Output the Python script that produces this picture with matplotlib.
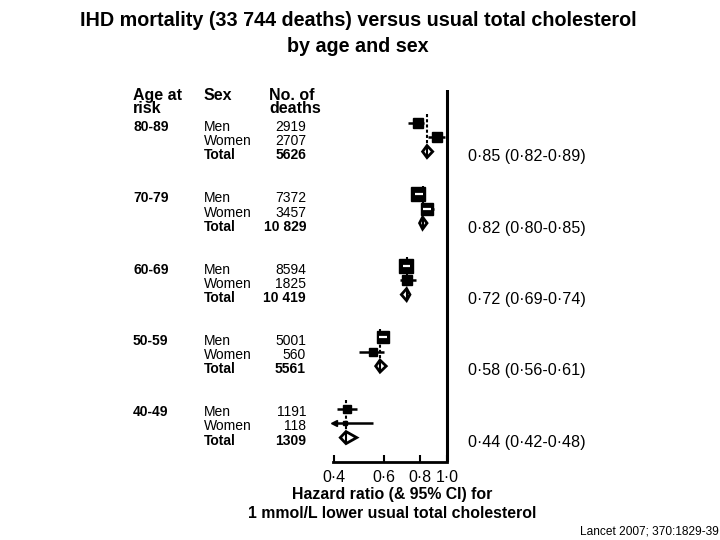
import numpy as np
import matplotlib.pyplot as plt
from matplotlib.patches import Polygon

plt.rcParams['font.family'] = ['Liberation Sans', 'DejaVu Sans']

# data
ages = ['80-89', '70-79', '60-69', '50-59', '40-49']
men_deaths = [2919, 7372, 8594, 5001, 1191]
women_deaths = [2707, 3457, 1825, 560, 118]
total_deaths = ['5626', '10 829', '10 419', '5561', '1309']

men_hr = [0.787, 0.79, 0.717, 0.595, 0.444]
men_lo = [0.73, 0.77, 0.70, 0.57, 0.41]
men_hi = [0.83, 0.82, 0.74, 0.62, 0.48]

women_hr = [0.92, 0.85, 0.725, 0.548, 0.435]
women_lo = [0.86, 0.81, 0.68, 0.49, 0.33]
women_hi = [0.98, 0.90, 0.78, 0.60, 0.55]

total_hr = [0.85, 0.82, 0.72, 0.58, 0.44]
total_lo = [0.82, 0.80, 0.69, 0.56, 0.42]
total_hi = [0.89, 0.85, 0.74, 0.61, 0.48]

xticks = [0.4, 0.6, 0.8, 1.0]
xticklabels = ['0·4', '0·6', '0·8', '1·0']

W, H = 720, 540
fig = plt.figure(figsize=(7.2, 5.4), dpi=100)


def fpos(x, y):
    # pixel position -> figure fraction
    return x / W, 1 - y / H


# forest plot axes (pixel box 320..460 x 90..462)
ax = fig.add_axes([320 / W, 1 - 462 / H, 140 / W, 372 / H])
ax.set_xscale('log')
ax.set_xlim(np.exp(-127 / 123), np.exp(13 / 123))
ax.set_ylim((462 - 123) / 14.3, (90 - 123) / 14.3)
for s in ['top', 'right', 'left']:
    ax.spines[s].set_visible(False)
ax.spines['bottom'].set_bounds(0.395, 1.0)
ax.spines['bottom'].set_linewidth(2)
ax.set_yticks([])
ax.set_xticks(xticks)
ax.set_xticklabels(xticklabels)
ax.minorticks_off()
ax.tick_params(axis='x', direction='in', length=5, width=1.5, labelsize=11.5, pad=6)
ax.axvline(1.0, color='black', lw=2.2)

xmin_bound = 0.4
px_per_ln = 123.0


def draw_est(y, hr, lo, hi, deaths):
    side = 14 * (deaths / 8594) ** 0.25
    left = max(lo, xmin_bound)
    ax.plot([left, hi], [y, y], color='black', lw=1.8, solid_capstyle='butt', zorder=3)
    if lo < xmin_bound:
        ax.plot([left], [y], marker='<', color='black', ms=5, zorder=3)
    ax.plot([hr], [y], marker='s', color='black', ms=side * 0.72, zorder=4)
    # white CI stroke visible inside big squares
    hw = (side / 2 - 2) / px_per_ln
    a, b = max(lo, hr * np.exp(-hw)), min(hi, hr * np.exp(hw))
    if b > a and side > 11:
        ax.plot([a, b], [y, y], color='white', lw=1.6, solid_capstyle='butt', zorder=5)


for g in range(len(ages)):
    y0 = g * 5
    ax.plot([total_hr[g], total_hr[g]], [y0 - 0.6, y0 + 2.3], color='black',
            lw=1.5, ls=(0, (1.5, 1)), zorder=2)
    draw_est(y0, men_hr[g], men_lo[g], men_hi[g], men_deaths[g])
    draw_est(y0 + 1, women_hr[g], women_lo[g], women_hi[g], women_deaths[g])
    yt = y0 + 2
    dia = Polygon([(total_lo[g], yt), (total_hr[g], yt - 0.42),
                   (total_hi[g], yt), (total_hr[g], yt + 0.42)],
                  closed=True, facecolor='white', edgecolor='black', lw=2, zorder=3)
    ax.add_patch(dia)
    ax.plot([total_hr[g], total_hr[g]], [yt - 0.25, yt + 0.25], color='black', lw=1.5, zorder=4)

# table text
fs = 10
fig.text(*fpos(133, 88), 'Age at\nrisk', fontsize=11.5, fontweight='bold', va='top', linespacing=0.8)
fig.text(*fpos(204, 88), 'Sex', fontsize=11.5, fontweight='bold', va='top')
fig.text(*fpos(269, 88), 'No. of\ndeaths', fontsize=11.5, fontweight='bold', va='top', linespacing=0.8)

for g in range(len(ages)):
    yb = 127 + g * 71.3
    fig.text(*fpos(133, yb), ages[g], fontsize=fs, fontweight='bold', va='center')
    fig.text(*fpos(204, yb), 'Men', fontsize=fs, va='center')
    fig.text(*fpos(204, yb + 14.2), 'Women', fontsize=fs, va='center')
    fig.text(*fpos(204, yb + 28.4), 'Total', fontsize=fs, fontweight='bold', va='center')
    fig.text(*fpos(306, yb), str(men_deaths[g]), fontsize=fs, va='center', ha='right')
    fig.text(*fpos(306, yb + 14.2), str(women_deaths[g]), fontsize=fs, va='center', ha='right')
    fig.text(*fpos(306, yb + 28.4), total_deaths[g], fontsize=fs, fontweight='bold', va='center', ha='right')
    lab = f'{total_hr[g]:.2f} ({total_lo[g]:.2f}-{total_hi[g]:.2f})'.replace('.', '·')
    fig.text(*fpos(468, yb + 30), lab, fontsize=11.6, va='center')

fig.text(*fpos(358, 21), 'IHD mortality (33 744 deaths) versus usual total cholesterol',
         fontsize=14.2, fontweight='bold', ha='center', va='center')
fig.text(*fpos(358, 46), 'by age and sex', fontsize=14.2, fontweight='bold', ha='center', va='center')

fig.text(*fpos(392, 494), 'Hazard ratio (& 95% CI) for', fontsize=11.4, fontweight='bold', ha='center', va='center')
fig.text(*fpos(392, 513), '1 mmol/L lower usual total cholesterol', fontsize=11.4, fontweight='bold',
         ha='center', va='center')
fig.text(*fpos(719, 532), 'Lancet 2007; 370:1829-39', fontsize=8.6, ha='right', va='center')

fig.savefig('out.png', dpi=100)
